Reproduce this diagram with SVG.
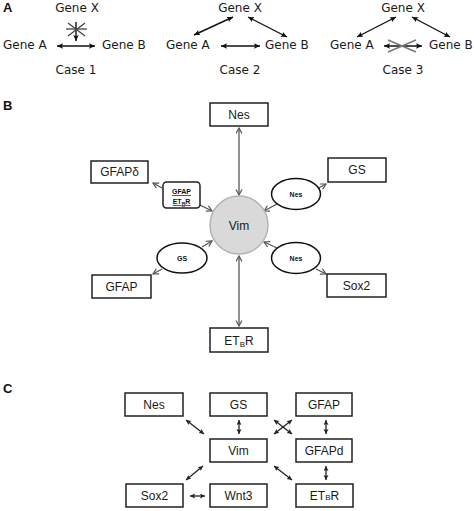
<svg xmlns="http://www.w3.org/2000/svg" width="474" height="511" viewBox="0 0 474 511">
<style>
.bg{fill:#fff}
.ta{font-family:"DejaVu Sans",Verdana,sans-serif;font-size:12px;fill:#1a1a1a}
.lab{font-family:"Liberation Sans",Arial,sans-serif;font-size:13px;font-weight:bold;fill:#111}
.t{font-family:"Liberation Sans",Arial,sans-serif;font-size:12px;fill:#1a1a1a;text-anchor:middle}
.ts{font-family:"Liberation Sans",Arial,sans-serif;font-size:7px;font-weight:bold;fill:#111;text-anchor:middle}
.box{fill:#fff;stroke:#222;stroke-width:1.5}
.ell{fill:#fff;stroke:#111;stroke-width:1.5}
.la{stroke:#111;stroke-width:1.4;fill:none}
.lb{stroke:#555;stroke-width:1.3;fill:none}
.lc{stroke:#222;stroke-width:1.3;fill:none}
</style>
<defs>
<marker id="mA" markerUnits="userSpaceOnUse" markerWidth="8" markerHeight="7" refX="6" refY="2.75" orient="auto-start-reverse">
<path d="M0,0 L6,2.75 L0,5.5 L1.2,2.75 Z" fill="#111"/>
</marker>
<marker id="mB" markerUnits="userSpaceOnUse" markerWidth="8" markerHeight="8" refX="6" refY="3.5" orient="auto-start-reverse">
<path d="M0.5,0.5 L6,3.5 L0.5,6.5" fill="none" stroke="#555" stroke-width="1.2"/>
</marker>
<marker id="mC" markerUnits="userSpaceOnUse" markerWidth="7" markerHeight="6" refX="5" refY="2.5" orient="auto-start-reverse">
<path d="M0,0 L5,2.5 L0,5 L1,2.5 Z" fill="#222"/>
</marker>
</defs>
<rect class="bg" x="0" y="0" width="474" height="511"/>

<!-- Panel A -->
<g id="panelA">
<text class="lab" x="3" y="12">A</text>
<g id="case1">
<text class="ta" x="77" y="12" text-anchor="middle">Gene X</text>
<text class="ta" x="3" y="49">Gene A</text>
<text class="ta" x="102" y="49">Gene B</text>
<text class="ta" x="76" y="74" text-anchor="middle">Case 1</text>
</g>
<g id="case2">
<text class="ta" x="240" y="12" text-anchor="middle">Gene X</text>
<text class="ta" x="166" y="49">Gene A</text>
<text class="ta" x="265" y="49">Gene B</text>
<text class="ta" x="240" y="74" text-anchor="middle">Case 2</text>
</g>
<g id="case3">
<text class="ta" x="403" y="12" text-anchor="middle">Gene X</text>
<text class="ta" x="330" y="49">Gene A</text>
<text class="ta" x="429" y="49">Gene B</text>
<text class="ta" x="403" y="74" text-anchor="middle">Case 3</text>
</g>
</g>

<g id="connectorsA">
<line class="la" x1="57" y1="46" x2="95" y2="46" marker-start="url(#mA)" marker-end="url(#mA)"/>
<line class="la" x1="76" y1="22" x2="76" y2="41" marker-end="url(#mA)"/>
<g stroke="#444" stroke-width="1.3">
<line x1="66" y1="29" x2="87" y2="29"/>
<line x1="68" y1="23" x2="85" y2="36"/>
<line x1="68" y1="36" x2="85" y2="23"/>
</g>
<line class="la" x1="221" y1="46" x2="260" y2="46" marker-start="url(#mA)" marker-end="url(#mA)"/>
<line class="la" x1="194" y1="35" x2="233" y2="17" marker-start="url(#mA)" marker-end="url(#mA)"/>
<line class="la" x1="248" y1="17" x2="287" y2="37" marker-start="url(#mA)" marker-end="url(#mA)"/>
<line class="la" x1="384" y1="46" x2="422" y2="46" marker-start="url(#mA)" marker-end="url(#mA)"/>
<g stroke="#777" stroke-width="1.4">
<line x1="388" y1="40" x2="416" y2="52"/>
<line x1="388" y1="52" x2="416" y2="40"/>
</g>
<line class="la" x1="357" y1="37" x2="396" y2="17" marker-start="url(#mA)" marker-end="url(#mA)"/>
<line class="la" x1="412" y1="17" x2="450" y2="37" marker-start="url(#mA)" marker-end="url(#mA)"/>
</g>

<!-- Panel B -->
<text class="lab" x="3" y="110">B</text>
<g id="connectorsB">
<line class="lb" x1="239" y1="128" x2="239" y2="195" marker-start="url(#mB)" marker-end="url(#mB)"/>
<line class="lb" x1="239" y1="256" x2="239" y2="326" marker-start="url(#mB)" marker-end="url(#mB)"/>
<line class="lb" x1="162" y1="188" x2="153" y2="183" marker-end="url(#mB)"/>
<line class="lb" x1="200" y1="205" x2="212" y2="211" marker-end="url(#mB)"/>
<line class="lb" x1="315" y1="190" x2="326" y2="184" marker-end="url(#mB)"/>
<line class="lb" x1="277" y1="204" x2="264" y2="211" marker-end="url(#mB)"/>
<line class="lb" x1="162" y1="269" x2="153" y2="274" marker-end="url(#mB)"/>
<line class="lb" x1="202" y1="247" x2="212" y2="241" marker-end="url(#mB)"/>
<line class="lb" x1="316" y1="269" x2="326" y2="274" marker-end="url(#mB)"/>
<line class="lb" x1="277" y1="248" x2="264" y2="242" marker-end="url(#mB)"/>
</g>
<g id="B-Nes"><rect class="box" x="210" y="103" width="58" height="23"/><text class="t" x="239" y="119">Nes</text></g>
<g id="B-GFAPd"><rect class="box" x="91" y="161" width="57" height="22"/><text class="t" x="119.5" y="176">GFAPδ</text></g>
<g id="B-GS"><rect class="box" x="328" y="158" width="58" height="24"/><text class="t" x="357" y="174">GS</text></g>
<g id="B-GFAP"><rect class="box" x="92" y="275" width="59" height="23"/><text class="t" x="121.5" y="291">GFAP</text></g>
<g id="B-Sox2"><rect class="box" x="327" y="274" width="59" height="23"/><text class="t" x="356.5" y="290">Sox2</text></g>
<g id="B-ETBR"><rect class="box" x="210" y="328" width="58" height="24"/><text class="t" x="239" y="344.5">ET<tspan font-size="8" dy="2">B</tspan><tspan dy="-2">R</tspan></text></g>
<g id="B-Vim"><circle cx="239" cy="225" r="29" fill="#d9d9d9" stroke="#b3b3b3" stroke-width="1.5"/><text class="t" x="239" y="230" font-size="13">Vim</text></g>
<g id="B-GFAP-ETBR"><rect x="163" y="182" width="37" height="26" rx="3.5" fill="#fff" stroke="#222" stroke-width="1.5"/>
<text class="ts" x="181.5" y="194" text-decoration="underline">GFAP</text>
<text class="ts" x="181.5" y="204" text-decoration="underline">ET<tspan font-size="5" dy="1.5">B</tspan><tspan dy="-1.5">R</tspan></text></g>
<g id="B-ell-Nes1"><ellipse class="ell" cx="296" cy="194" rx="24.5" ry="15.5"/><text class="ts" x="296" y="197">Nes</text></g>
<g id="B-ell-GS"><ellipse class="ell" cx="182" cy="258" rx="25" ry="15"/><text class="ts" x="182" y="261">GS</text></g>
<g id="B-ell-Nes2"><ellipse class="ell" cx="296" cy="258" rx="24.5" ry="15.5"/><text class="ts" x="296" y="261">Nes</text></g>

<!-- Panel C -->
<text class="lab" x="3" y="393">C</text>
<g id="connectorsC">
<line class="lc" x1="186" y1="420" x2="204" y2="434" marker-start="url(#mC)" marker-end="url(#mC)"/>
<line class="lc" x1="239" y1="420" x2="239" y2="434" marker-start="url(#mC)" marker-end="url(#mC)"/>
<line class="lc" x1="274" y1="420" x2="292" y2="434" marker-start="url(#mC)" marker-end="url(#mC)"/>
<line class="lc" x1="292" y1="420" x2="274" y2="434" marker-start="url(#mC)" marker-end="url(#mC)"/>
<line class="lc" x1="326" y1="420" x2="326" y2="434" marker-start="url(#mC)" marker-end="url(#mC)"/>
<line class="lc" x1="203" y1="466" x2="186" y2="480" marker-start="url(#mC)" marker-end="url(#mC)"/>
<line class="lc" x1="190" y1="496" x2="205" y2="496" marker-start="url(#mC)" marker-end="url(#mC)"/>
<line class="lc" x1="274" y1="466" x2="292" y2="480" marker-start="url(#mC)" marker-end="url(#mC)"/>
<line class="lc" x1="326" y1="466" x2="326" y2="480" marker-start="url(#mC)" marker-end="url(#mC)"/>
</g>
<g id="C-Nes"><rect class="box" x="125" y="393" width="58" height="23"/><text class="t" x="154" y="409">Nes</text></g>
<g id="C-GS"><rect class="box" x="210" y="393" width="57" height="23"/><text class="t" x="238.5" y="409">GS</text></g>
<g id="C-GFAP"><rect class="box" x="296" y="393" width="56" height="23"/><text class="t" x="324" y="409">GFAP</text></g>
<g id="C-Vim"><rect class="box" x="210" y="439" width="57" height="23"/><text class="t" x="238.5" y="455">Vim</text></g>
<g id="C-GFAPd"><rect class="box" x="296" y="439" width="56" height="23"/><text class="t" x="324" y="455">GFAPd</text></g>
<g id="C-Sox2"><rect class="box" x="126" y="484" width="57" height="23"/><text class="t" x="154.5" y="500">Sox2</text></g>
<g id="C-Wnt3"><rect class="box" x="210" y="484" width="57" height="23"/><text class="t" x="238.5" y="500">Wnt3</text></g>
<g id="C-ETBR"><rect class="box" x="296" y="484" width="57" height="23"/><text class="t" x="324.5" y="500">ET<tspan font-size="8">B</tspan>R</text></g>
</svg>
